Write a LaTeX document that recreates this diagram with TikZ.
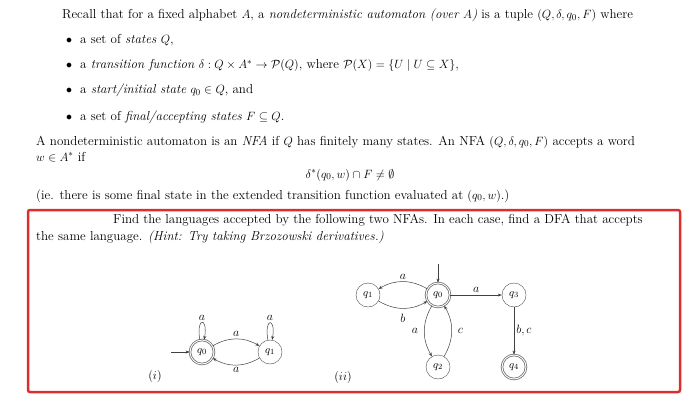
\documentclass[tikz,border=0pt]{standalone}
\usepackage{amsmath,amssymb}
\usetikzlibrary{arrows.meta}
\definecolor{boxred}{RGB}{222,45,45}
\begin{document}
\begin{tikzpicture}[x=1pt,y=-1pt,
  txt/.style={anchor=base west,inner sep=0pt,font=\fontsize{13}{15}\selectfont},
  st/.style={circle,draw=black!70,minimum size=24pt,inner sep=0pt,font=\fontsize{11}{13}\selectfont},
  acc/.style={st,double=white,draw=black!55,line width=0.8pt,double distance=0.9pt},
  lab/.style={font=\fontsize{11.5}{13}\selectfont\itshape,inner sep=2pt},
  edge/.style={draw=black!75,-{Stealth[length=4pt,width=3pt]},line width=0.5pt}]
\useasboundingbox (0,0) rectangle (700,401);
\fill[white] (0,0) rectangle (700,401);
\node[txt] (l1) at (62,19) {Recall that for a fixed alphabet $A$, a \textit{nondeterministic automaton (over $A$)} is a tuple $(Q,\delta,q_0,F)$ where};
\foreach \y/\t [count=\i] in {44/{a set of \textit{states} $Q$,},
  69/{a \textit{transition function} $\delta : Q\times A^*\to\mathcal{P}(Q)$, where $\mathcal{P}(X)=\{U\mid U\subseteq X\}$,},
  94/{a \textit{start/initial state} $q_0\in Q$, and},
  120/{a set of \textit{final/accepting states} $F\subseteq Q$.}}{
  \node[txt] (b\i) at (66,\y) {$\bullet$\hspace{8pt}\t};}
\node[txt] (l2) at (36,145) {A nondeterministic automaton is an \textit{NFA} if $Q$ has finitely many states. An NFA $(Q,\delta,q_0,F)$ accepts a word};
\node[txt] (l3) at (36,161) {$w\in A^*$ if};
\node[txt,anchor=base] (f) at (350,178) {$\delta^*(q_0,w)\cap F\neq\emptyset$};
\node[txt] (l4) at (36,199) {(ie. there is some final state in the extended transition function evaluated at $(q_0,w)$.)};
\draw[boxred,line width=2.5pt,rounded corners=2pt] (28,210) rectangle (680,392);
\node[txt] (p1) at (113,223) {Find the languages accepted by the following two NFAs. In each case, find a DFA that accepts};
\node[txt] (p2) at (36,240) {the same language. \textit{(Hint: Try taking Brzozowski derivatives.)}};
% automaton (i)
\node[acc] (a0) at (202,352) {$q_0$};
\node[st] (a1) at (270,352) {$q_1$};
\coordinate (s0) at (171,352);
\draw[edge] (s0) -- (a0);
\draw[edge] (a0) to[out=30,in=150] node[lab,above] {$a$} (a1);
\draw[edge] (a1) to[out=-150,in=-30] node[lab,below] {$a$} (a0);
\draw[edge] (a0.100) to[out=100,in=80,looseness=14] node[lab,above] {$a$} (a0.80);
\draw[edge] (a1.100) to[out=100,in=80,looseness=14] node[lab,above] {$a$} (a1.80);
\node[lab] (i1) at (155,376) {$(i)$};
% automaton (ii)
\node[acc] (b0) at (438,295) {$q_0$};
\node[st] (c1) at (368,295) {$q_1$};
\node[st] (c3) at (514,295) {$q_3$};
\node[st] (c2) at (438,367) {$q_2$};
\node[acc] (c4) at (514,367) {$q_4$};
\coordinate (s1) at (438,264);
\draw[edge] (s1) -- (b0);
\draw[edge] (b0) to[out=150,in=30] node[lab,above] {$a$} (c1);
\draw[edge] (c1) to[out=-30,in=-150] node[lab,below,yshift=-4pt] {$b$} (b0);
\draw[edge] (b0) to[out=-120,in=120] node[lab,left,xshift=-4pt] {$a$} (c2);
\draw[edge] (c2) to[out=60,in=-60] node[lab,right,xshift=4pt] {$c$} (b0);
\draw[edge] (b0) -- node[lab,above] {$a$} (c3);
\draw[edge] (c3) -- node[lab,right] {$b,c$} (c4);
\node[lab] (i2) at (343,377) {$(ii)$};
\end{tikzpicture}
\end{document}
